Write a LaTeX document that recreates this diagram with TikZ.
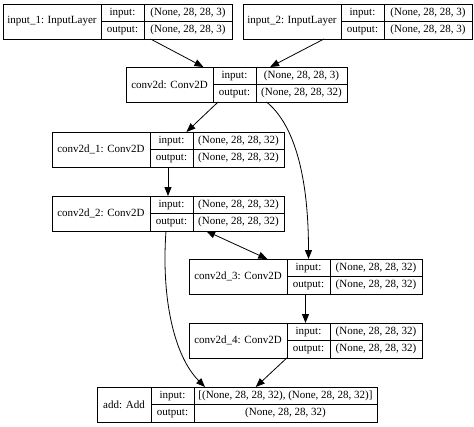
\documentclass[tikz,border=0pt]{standalone}
\usepackage{fontspec}
\setmainfont{Liberation Serif}
\usetikzlibrary{arrows.meta}

\tikzset{
	box/.style={draw, line width=0.8pt, minimum height=35pt, inner sep=0pt, outer sep=0pt},
	cell/.style={draw, line width=0.8pt, minimum height=17.5pt, inner sep=0pt, outer sep=0pt,
		font=\fontsize{11}{13}\selectfont},
	link/.style={line width=0.8pt, -{Triangle[length=9pt,width=7pt]}}
}

% one layer: name, north west corner, label, label width, value width, input, output
\newcommand{\layer}[7]{%
	\node[box, minimum width=#4pt+43pt+#5pt, anchor=north west] (#1) at (#2) {};
	\node[cell, minimum width=#4pt, minimum height=35pt, anchor=north west] (#1-l) at (#1.north west) {#3};
	\node[cell, minimum width=43pt, anchor=north west] (#1-ki) at (#1-l.north east) {input:};
	\node[cell, minimum width=#5pt, anchor=north west] (#1-vi) at (#1-ki.north east) {#6};
	\node[cell, minimum width=43pt, anchor=north west] (#1-ko) at (#1-ki.south west) {output:};
	\node[cell, minimum width=#5pt, anchor=north west] (#1-vo) at (#1-ko.north east) {#7};
}

\begin{document}
\begin{tikzpicture}[x=1pt, y=-1pt]
	\useasboundingbox (0,0) rectangle (474,426);
	
	\layer{in1}{3,4}{input\_1: InputLayer}{98}{88}{(None, 28, 28, 3)}{(None, 28, 28, 3)}
	\layer{in2}{243,4}{input\_2: InputLayer}{98}{88}{(None, 28, 28, 3)}{(None, 28, 28, 3)}
	\layer{c0}{126,67}{conv2d: Conv2D}{87}{91}{(None, 28, 28, 3)}{(None, 28, 28, 32)}
	\layer{c1}{52,132}{conv2d\_1: Conv2D}{98}{91}{(None, 28, 28, 32)}{(None, 28, 28, 32)}
	\layer{c2}{52,196}{conv2d\_2: Conv2D}{98}{91}{(None, 28, 28, 32)}{(None, 28, 28, 32)}
	\layer{c3}{189,259}{conv2d\_3: Conv2D}{98}{92}{(None, 28, 28, 32)}{(None, 28, 28, 32)}
	\layer{c4}{189,323}{conv2d\_4: Conv2D}{98}{92}{(None, 28, 28, 32)}{(None, 28, 28, 32)}
	\layer{add}{97,387}{add: Add}{54}{183}{[(None, 28, 28, 32), (None, 28, 28, 32)]}{(None, 28, 28, 32)}
	
	% edges, centre to centre
	\draw[link] (in1) -- (c0);
	\draw[link] (in2) -- (c0);
	\draw[link] (c0) -- (c1);
	\draw[link] (c1) -- (c2);
	\draw[link, {Triangle[length=9pt,width=7pt]}-{Triangle[length=9pt,width=7pt]}] (c2) -- (c3);
	\draw[link] (c3) -- (c4);
	\draw[link] (c4) -- (add);
	% the two bent ones
	\draw[link] ([xshift=30pt]c0.south) .. controls +(25,20) and +(0,-90) .. ([xshift=3pt]c3.north);
	\draw[link] ([xshift=-2pt]c2.south) .. controls +(-5,70) and +(-30,-30) .. ([xshift=-32pt]add.north);
\end{tikzpicture}
\end{document}
